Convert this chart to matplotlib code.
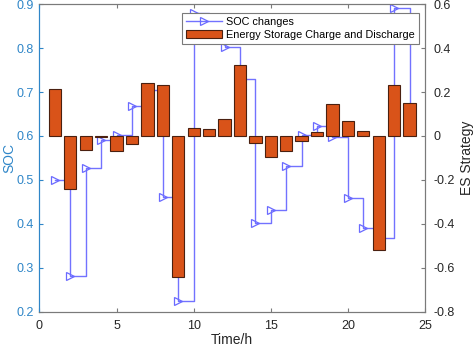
import matplotlib
matplotlib.use("Agg")
import matplotlib.pyplot as plt
import numpy as np

plt.rcParams['font.family'] = ['Liberation Sans', 'DejaVu Sans']

# hourly data
hours = np.arange(1, 25)
soc = [0.500, 0.281, 0.526, 0.590, 0.602, 0.668, 0.704, 0.461, 0.224, 0.879,
       0.840, 0.802, 0.729, 0.401, 0.431, 0.532, 0.602, 0.622, 0.598, 0.458,
       0.391, 0.367, 0.892, 0.650]
es = [0.215, -0.242, -0.066, -0.005, -0.069, -0.035, 0.241, 0.233, -0.640, 0.037,
      0.032, 0.077, 0.325, -0.030, -0.096, -0.069, -0.023, 0.018, 0.144, 0.068,
      0.023, -0.518, 0.233, 0.152]

left_color = '#2f86c8'
dark = '#262626'

fig = plt.figure(figsize=(4.74, 3.47), dpi=100)
ax1 = fig.add_axes([0.0833, 0.1017, 0.8133, 0.8863])
ax2 = ax1.twinx()

# SOC as a stairs line on the left axis
line, = ax1.step(hours, soc, where='post', color='#7272ff', lw=1.0,
                 marker='>', markersize=6, markerfacecolor='none',
                 markeredgecolor='#6a6aff', markeredgewidth=0.9,
                 label='SOC changes')
ax1.set_xlim(0, 25)
ax1.set_ylim(0.2, 0.9)
ax1.set_xticks(np.arange(0, 26, 5))
ax1.set_yticks(np.arange(0.2, 0.91, 0.1))
ax1.set_yticklabels([f'{v:.1f}' for v in np.arange(0.2, 0.91, 0.1)])
ax1.set_ylabel('SOC', color=left_color, fontsize=10, labelpad=0)
ax1.set_xlabel('Time/h', color=dark, fontsize=10, labelpad=1)

# energy storage bars on the right axis
bars = ax2.bar(hours, es, width=0.8, color='#d95319', edgecolor='#4a2010',
               linewidth=0.8, label='Energy Storage Charge and Discharge')
ax2.set_ylim(-0.8, 0.6)
ax2.set_yticks(np.arange(-0.8, 0.61, 0.2))
ax2.set_yticklabels(['-0.8', '-0.6', '-0.4', '-0.2', '0', '0.2', '0.4', '0.6'])
ax2.set_ylabel('ES Strategy', color=dark, fontsize=10, labelpad=4)

for ax in (ax1, ax2):
    for s in ax.spines.values():
        s.set_color('#7a7a7a')
        s.set_linewidth(0.8)
ax1.spines['left'].set_color(left_color)
ax2.spines['left'].set_color(left_color)

ax1.tick_params(axis='x', direction='in', length=3, colors='#7a7a7a',
                labelcolor=dark, labelsize=9, top=True, pad=6)
ax1.tick_params(axis='y', direction='in', length=3, colors=left_color,
                labelsize=9, pad=4)
ax2.tick_params(axis='y', direction='in', length=3, colors='#7a7a7a',
                labelcolor=dark, labelsize=9, pad=6)

leg = ax2.legend([line, bars], ['SOC changes', 'Energy Storage Charge and Discharge'],
                 loc='upper right', bbox_to_anchor=(418.5 / 474, 1 - 13.3 / 347),
                 bbox_transform=fig.transFigure, fontsize=7.8, frameon=True,
                 fancybox=False, framealpha=1, edgecolor='#7a7a7a',
                 borderpad=0.35, labelspacing=0.25, handlelength=3.3,
                 handletextpad=0.4, borderaxespad=0)
leg.get_frame().set_linewidth(0.8)

fig.savefig('out.png', dpi=100)
